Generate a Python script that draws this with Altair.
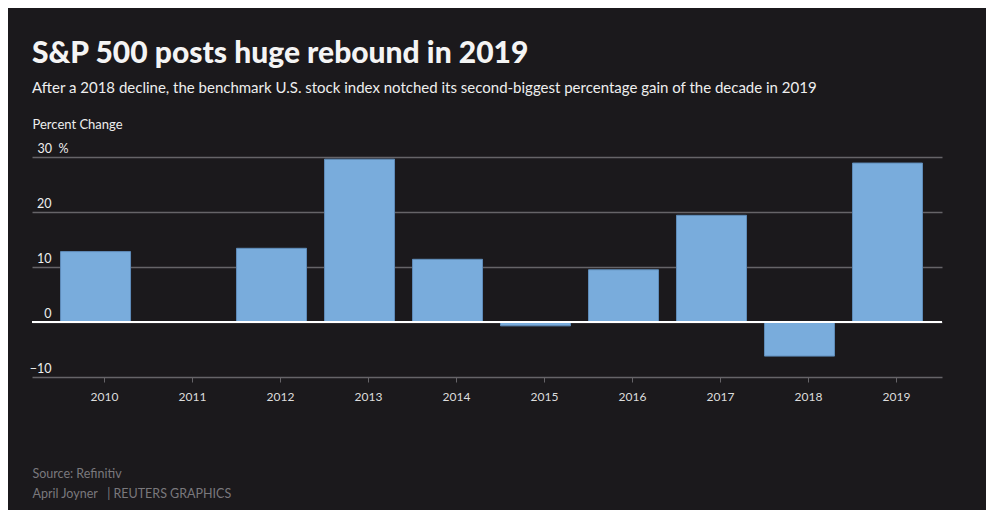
import altair as alt
import pandas as pd

years = ["2010", "2011", "2012", "2013", "2014", "2015", "2016", "2017", "2018", "2019"]
pct = [12.8, 0.0, 13.4, 29.6, 11.4, -0.7, 9.5, 19.4, -6.2, 28.9]
y_ticks = [-10, 0, 10, 20, 30]

df = pd.DataFrame({"year": years, "pct": pct})

BG = "#1b191c"
GRID = "#666468"

x_enc = alt.X(
    "year:N",
    sort=years,
    scale=alt.Scale(paddingInner=0.2045, paddingOuter=0.273, align=0.594),
    axis=alt.Axis(
        title=["Source: Refinitiv", "April Joyner\u00a0\u00a0\u00a0| REUTERS GRAPHICS"],
        titleColor="#7a787c",
        titleFont="Lato",
        titleFontSize=12.5,
        titleFontWeight="normal",
        titleAnchor="start",
        titleAlign="left",
        titleBaseline="alphabetic",
        titleX=0,
        titleY=100,
        titleLineHeight=20,
        labelAngle=0,
        labelColor="#dddddd",
        labelFont="Lato",
        labelFontSize=12,
        labelPadding=9,
        tickOffset=8.5,
        domain=False,
        ticks=True,
        tickColor=GRID,
        tickSize=5,
        tickWidth=1,
        grid=False,
    ),
)

y_enc = alt.Y(
    "pct:Q",
    scale=alt.Scale(domain=[-10, 30], nice=False, zero=False),
    axis=alt.Axis(
        values=y_ticks,
        labelExpr="datum.value == 30 ? '30\u00a0\u00a0%' : datum.label",
        labelAlign={"condition": {"test": "datum.value == 30", "value": "left"}, "value": "right"},
        labelPadding={"condition": {"test": "datum.value == 30", "value": -5}, "value": -19},
        labelBaseline="bottom",
        labelOffset=-2,
        labelColor="#eeeeee",
        labelFont="Lato",
        labelFontSize=12.5,
        domain=False,
        ticks=False,
        grid=True,
        gridColor=GRID,
        gridWidth=1.5,
        title="Percent Change",
        titleAngle=0,
        titleAlign="left",
        titleBaseline="alphabetic",
        titleX=0,
        titleY=-29,
        titleColor="#eeeeee",
        titleFont="Lato",
        titleFontSize=13,
        titleFontWeight="normal",
    ),
)

bars = alt.Chart(df).mark_bar(
    color="#79acdc", stroke="#5f8cb9", strokeWidth=1
).encode(x=x_enc, y=y_enc)

zero = alt.Chart(pd.DataFrame({"v": [0]})).mark_rule(
    color="white", strokeWidth=2
).encode(y=alt.Y("v:Q"))

chart = (
    alt.layer(bars, zero)
    .properties(
        width=910,
        height=220,
        background=BG,
        padding={"left": 24, "top": 149, "right": 44, "bottom": 133},
        autosize=alt.AutoSizeParams(type="none"),
        title=alt.TitleParams(
            text="S&P 500 posts huge rebound in 2019",
            subtitle="After a 2018 decline, the benchmark U.S. stock index notched its second-biggest percentage gain of the decade in 2019",
            anchor="start",
            frame="group",
            font="Lato",
            fontSize=30,
            fontWeight=900,
            color="#f4f4f4",
            subtitleFont="Lato",
            subtitleFontSize=15,
            subtitleColor="#eeeeee",
            subtitlePadding=12,
            offset=22,
        ),
    )
    .configure_view(stroke=None)
)

chart.save("out.html", embed_options={"renderer": "svg", "actions": False})
